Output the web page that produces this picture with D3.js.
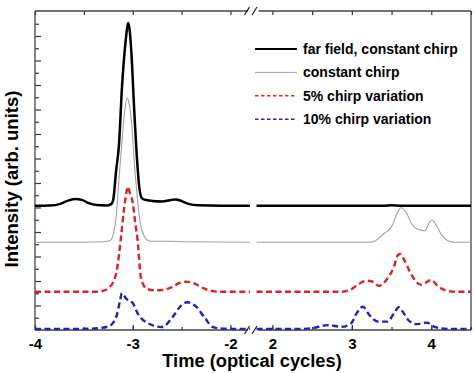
<!DOCTYPE html>
<html>
<head>
<meta charset="utf-8">
<script src="https://cdn.jsdelivr.net/npm/d3@7"></script>
<style>
    body { margin: 0; background: #fff; }
    svg { display: block; font-family: "Liberation Sans", Arial, sans-serif; }
</style>
</head>
<body>
<svg id="chart"></svg>
<script>
// time in optical cycles, intensity in arb. units (each curve already offset)
const farFieldLeft = [
    [-4.0, 5.07], [-3.85, 5.08], [-3.74, 5.15], [-3.66, 5.28], [-3.59, 5.35], [-3.52, 5.31],
    [-3.45, 5.18], [-3.37, 5.10], [-3.27, 5.08], [-3.22, 5.14], [-3.2, 5.3], [-3.17, 6.5],
    [-3.14, 7.6], [-3.11, 9.9], [-3.075, 11.7], [-3.045, 12.53], [-3.015, 11.4], [-2.985, 9.0],
    [-2.955, 6.9], [-2.935, 5.9], [-2.91, 5.4], [-2.88, 5.32], [-2.8, 5.27], [-2.7, 5.25],
    [-2.62, 5.3], [-2.56, 5.33], [-2.5, 5.26], [-2.43, 5.15], [-2.33, 5.09], [-2.1, 5.07], [-1.8, 5.07]
];
const farFieldRight = [
    [1.8, 5.07], [3.4, 5.07], [3.5, 5.09], [3.62, 5.07], [4.5, 5.07]
];

const constLeft = [
    [-4.0, 3.58], [-3.5, 3.58], [-3.3, 3.6], [-3.23, 3.65], [-3.2, 3.9], [-3.17, 4.6],
    [-3.14, 6.2], [-3.11, 7.7], [-3.08, 9.0], [-3.058, 9.47], [-3.035, 9.2], [-3.01, 8.4],
    [-2.985, 6.9], [-2.96, 5.7], [-2.94, 4.9], [-2.92, 4.3], [-2.89, 3.9], [-2.86, 3.7],
    [-2.82, 3.62], [-2.6, 3.62], [-2.5, 3.6], [-1.8, 3.58]
];
const constRight = [
    [1.8, 3.58], [3.2, 3.58], [3.265, 3.6], [3.41, 3.95], [3.5, 4.22], [3.57, 4.76],
    [3.62, 4.99], [3.69, 4.76], [3.75, 4.35], [3.83, 4.11], [3.92, 4.05], [3.98, 4.42],
    [4.01, 4.49], [4.06, 4.29], [4.13, 3.88], [4.21, 3.64], [4.3, 3.58], [4.5, 3.58]
];

const var5Left = [
    [-4.0, 1.56], [-3.4, 1.56], [-3.3, 1.6], [-3.24, 1.75], [-3.2, 1.95], [-3.16, 2.5],
    [-3.12, 3.8], [-3.09, 4.9], [-3.065, 5.6], [-3.05, 5.85], [-3.03, 5.6], [-3.0, 5.2],
    [-2.97, 4.25], [-2.95, 3.67], [-2.92, 2.24], [-2.89, 1.84], [-2.85, 1.67], [-2.78, 1.62],
    [-2.7, 1.63], [-2.6, 1.75], [-2.52, 1.92], [-2.45, 1.97], [-2.38, 1.92], [-2.3, 1.75],
    [-2.2, 1.6], [-2.1, 1.56], [-1.8, 1.56]
];
const var5Right = [
    [1.8, 1.56], [2.85, 1.56], [2.97, 1.63], [3.1, 1.9], [3.18, 2.01], [3.265, 1.97],
    [3.34, 1.8], [3.45, 2.11], [3.53, 2.58], [3.58, 3.06], [3.61, 3.1], [3.66, 2.86],
    [3.73, 2.38], [3.81, 1.97], [3.875, 1.84], [3.95, 1.97], [4.0, 2.04], [4.08, 1.8],
    [4.17, 1.63], [4.3, 1.56], [4.5, 1.56]
];

const var10Left = [
    [-4.0, 0.04], [-3.55, 0.04], [-3.34, 0.08], [-3.24, 0.16], [-3.2, 0.3], [-3.16, 0.65],
    [-3.13, 1.2], [-3.11, 1.5], [-3.07, 1.29], [-3.0, 1.1], [-2.95, 0.68], [-2.85, 0.29],
    [-2.7, 0.12], [-2.59, 0.54], [-2.5, 1.02], [-2.44, 1.13], [-2.35, 0.95], [-2.26, 0.48],
    [-2.18, 0.12], [-2.06, 0.05], [-1.8, 0.04]
];
const var10Right = [
    [1.8, 0.04], [2.3, 0.04], [2.49, 0.07], [2.7, 0.2], [2.87, 0.13], [2.99, 0.27],
    [3.06, 0.68], [3.14, 0.95], [3.22, 0.61], [3.33, 0.34], [3.45, 0.34], [3.53, 0.68],
    [3.59, 0.93], [3.64, 0.75], [3.71, 0.41], [3.81, 0.24], [3.94, 0.3], [4.04, 0.13],
    [4.21, 0.04], [4.5, 0.04]
];

const seriesNames = ["far field, constant chirp", "constant chirp", "5% chirp variation", "10% chirp variation"];
const xTicksLeft = [-4, -3, -2];
const xTicksRight = [2, 3, 4];

const width = 474;
const height = 373;

const styles = [
    { color: "#000000", width: 2.5, dash: null, legendWidth: 2 },
    { color: "#a0a0a0", width: 1.1, dash: null, legendWidth: 1 },
    { color: "#d8232a", width: 2.4, dash: "6,3.5", legendWidth: 1.6 },
    { color: "#2222b4", width: 2.4, dash: "6,3.5", legendWidth: 1.6 }
];

const svg = d3.select("#chart")
    .attr("width", width)
    .attr("height", height);

svg.append("rect").attr("width", width).attr("height", height).attr("fill", "#fff");

//two pieces of the broken time axis
const xLeft = d3.scaleLinear().domain([-4, -1.8]).range([35, 250]);
const xRight = d3.scaleLinear().domain([1.8, 4.5]).range([256.5, 471]);
const y = d3.scaleLinear().domain([0, 13]).range([330, 11.5]);

const yTop = y.range()[1] - 0.5;
const yBottom = y.range()[0];

const halfSteps = (lo, hi) => d3.range(Math.ceil(lo * 2), Math.floor(hi * 2) + 1).map(v => v / 2);

//bottom axes: labelled majors pointing inward, plus small half ticks
function drawBottom(scale, ticks) {
    const [d0, d1] = scale.domain();
    svg.append("g")
        .attr("class", "x-minor")
        .attr("transform", `translate(0, ${yBottom})`)
        .call(d3.axisBottom(scale).tickValues(halfSteps(d0, d1)).tickSize(-3).tickFormat(""));
    svg.append("g")
        .attr("class", "x-axis")
        .attr("transform", `translate(0, ${yBottom})`)
        .call(d3.axisBottom(scale).tickValues(ticks).tickSize(-5).tickPadding(8)
            .tickFormat(d => d < 0 ? "-" + Math.abs(d) : d));
    svg.append("g")
        .attr("class", "x-top")
        .attr("transform", `translate(0, ${yTop})`)
        .call(d3.axisBottom(scale).tickValues(halfSteps(d0, d1)).tickSize(4).tickFormat(""));
}
drawBottom(xLeft, xTicksLeft);
drawBottom(xRight, xTicksRight);

svg.selectAll(".domain").remove();
svg.selectAll(".tick line").attr("stroke", "#333").attr("stroke-width", 1.2);
svg.selectAll(".x-axis text")
    .attr("fill", "#000")
    .attr("font-size", 15)
    .attr("font-weight", "bold");

//left axis ticks
svg.append("g")
    .attr("class", "y-minor")
    .attr("transform", `translate(${xLeft.range()[0]}, 0)`)
    .call(d3.axisLeft(y).tickValues(halfSteps(0, 12.5).filter(v => v % 1 !== 0)).tickSize(-4).tickFormat(""));
svg.append("g")
    .attr("class", "y-major")
    .attr("transform", `translate(${xLeft.range()[0]}, 0)`)
    .call(d3.axisLeft(y).tickValues(d3.range(1, 13)).tickSize(-6).tickFormat(""));
svg.selectAll(".y-minor .domain, .y-major .domain").remove();
svg.selectAll(".y-minor line, .y-major line").attr("stroke", "#333").attr("stroke-width", 1.2);

//frame with the axis break
const frame = svg.append("g").attr("stroke", "#444").attr("stroke-width", 1.3).attr("fill", "none");
[yTop, yBottom].forEach(yy => {
    frame.append("line").attr("x1", xLeft.range()[0]).attr("x2", xLeft.range()[1] - 2).attr("y1", yy).attr("y2", yy);
    frame.append("line").attr("x1", xRight.range()[0] + 2).attr("x2", xRight.range()[1]).attr("y1", yy).attr("y2", yy);
    [xLeft.range()[1] - 3, xRight.range()[0] - 2].forEach(bx => {
        frame.append("line")
            .attr("x1", bx - 2.5).attr("y1", yy + 4)
            .attr("x2", bx + 2.5).attr("y2", yy - 4)
            .attr("stroke", "#222");
    });
});
frame.append("line").attr("x1", xLeft.range()[0]).attr("x2", xLeft.range()[0]).attr("y1", yTop).attr("y2", yBottom);
frame.append("line").attr("x1", xRight.range()[1]).attr("x2", xRight.range()[1]).attr("y1", yTop).attr("y2", yBottom);

//curves, left and right parts drawn separately
const pieces = [
    [farFieldLeft, farFieldRight],
    [constLeft, constRight],
    [var5Left, var5Right],
    [var10Left, var10Right]
];

const lineLeft = d3.line().x(d => xLeft(d[0])).y(d => y(d[1])).curve(d3.curveMonotoneX);
const lineRight = d3.line().x(d => xRight(d[0])).y(d => y(d[1])).curve(d3.curveMonotoneX);

//draw from the bottom series up so the black peak sits on top
for (let i = pieces.length - 1; i >= 0; i--) {
    const s = styles[i];
    [[pieces[i][0], lineLeft], [pieces[i][1], lineRight]].forEach(([data, gen]) => {
        svg.append("path")
            .datum(data)
            .attr("d", gen)
            .attr("fill", "none")
            .attr("stroke", s.color)
            .attr("stroke-width", s.width)
            .attr("stroke-dasharray", s.dash)
            .attr("stroke-linejoin", "round");
    });
}

//legend
const legend = svg.append("g").attr("transform", "translate(255, 49)");
seriesNames.forEach((name, i) => {
    const row = legend.append("g").attr("transform", `translate(0, ${i * 23.4})`);
    row.append("line")
        .attr("x1", 0).attr("x2", 42)
        .attr("stroke", styles[i].color)
        .attr("stroke-width", styles[i].legendWidth)
        .attr("stroke-dasharray", styles[i].dash ? "3.5,2.5" : null);
    row.append("text")
        .attr("x", 48)
        .attr("y", 5)
        .attr("font-size", 14)
        .attr("font-weight", "bold")
        .text(name);
});

//axis titles
svg.append("text")
    .attr("x", 252)
    .attr("y", 367)
    .attr("text-anchor", "middle")
    .attr("font-size", 18.3)
    .attr("font-weight", "bold")
    .text("Time (optical cycles)");

svg.append("text")
    .attr("transform", "translate(18, 179) rotate(-90)")
    .attr("text-anchor", "middle")
    .attr("font-size", 18.5)
    .attr("font-weight", "bold")
    .text("Intensity (arb. units)");
</script>
</body>
</html>
